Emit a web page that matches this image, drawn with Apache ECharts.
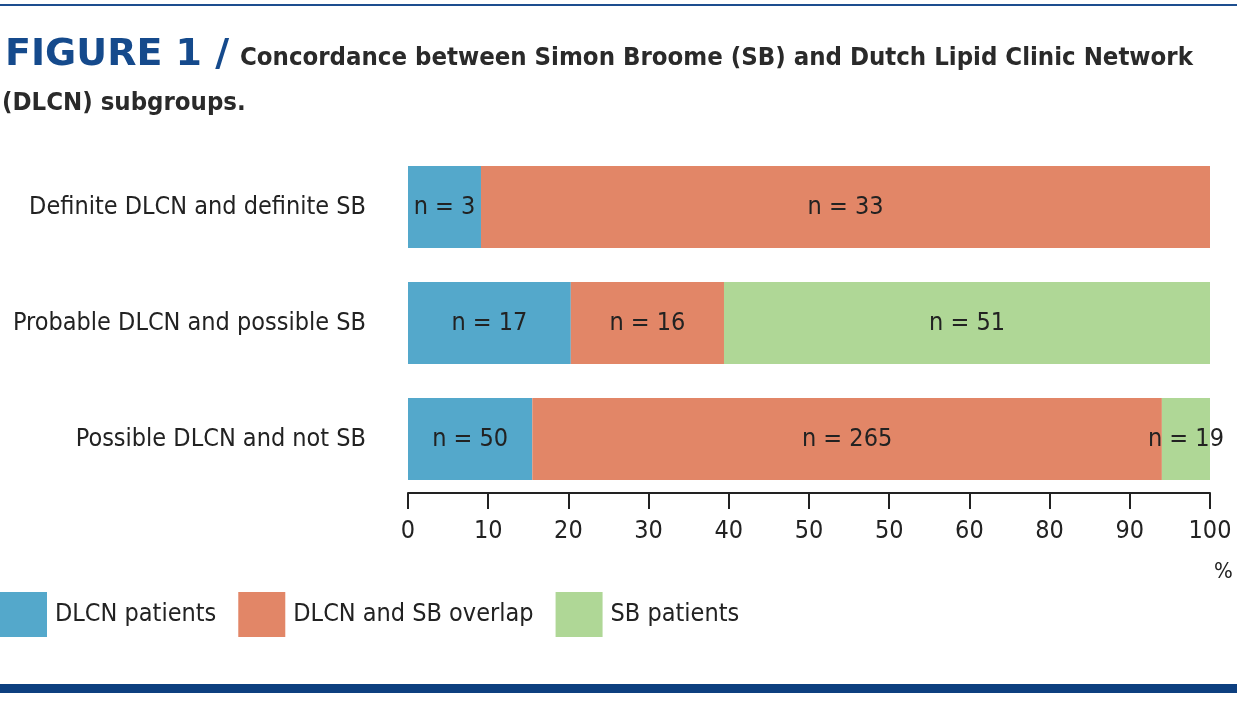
<!DOCTYPE html>
<html>
<head>
<meta charset="utf-8">
<script src="https://cdn.jsdelivr.net/npm/echarts@6/dist/echarts.min.js"></script>
<style>
html,body{margin:0;padding:0;background:#fff;}
#chart{width:1237px;height:714px;}
</style>
</head>
<body>
<div id="chart"></div>
<script>
// ---- data ----
var categories = ['Definite DLCN and definite SB', 'Probable DLCN and possible SB', 'Possible DLCN and not SB'];
var seriesNames = ['DLCN patients', 'DLCN and SB overlap', 'SB patients'];
var dlcnPct = [9.1, 20.3, 15.5];
var overlapPct = [90.9, 19.1, 78.5];
var sbPct = [0, 60.6, 6.0];
var dlcnN = [3, 17, 50];
var overlapN = [33, 16, 265];
var sbN = [0, 51, 19];
var tickLabels = ['0', '10', '20', '30', '40', '50', '50', '60', '80', '90', '100'];

var colors = ['#54a8cb', '#e28667', '#afd796'];
var FONT = '"Liberation Sans Narrow", "DejaVu Sans Condensed", "Roboto", sans-serif';

function mkSeries(name, pct, counts, color) {
  return {
    name: name,
    type: 'bar',
    stack: 'total',
    barWidth: 82,
    data: pct,
    itemStyle: { color: color },
    label: {
      show: true,
      position: 'inside',
      color: '#222',
      fontFamily: FONT,
      fontSize: 25,
      formatter: function (p) {
        var c = counts[p.dataIndex];
        return c ? 'n = ' + c : '';
      }
    },
    emphasis: { disabled: true }
  };
}

var chart = echarts.init(document.getElementById('chart'));
chart.setOption({
  backgroundColor: '#fff',
  animation: false,
  textStyle: { fontFamily: FONT },
  grid: { left: 408, right: 27, top: 149, height: 348, containLabel: false, outerBoundsMode: 'none' },
  xAxis: {
    type: 'value',
    min: 0, max: 100, interval: 10,
    offset: -4,
    axisLine: { show: true, lineStyle: { color: '#222', width: 2 } },
    axisTick: { show: true, length: 16, lineStyle: { color: '#222', width: 2 } },
    splitLine: { show: false },
    axisLabel: {
      color: '#222', fontFamily: FONT, fontSize: 25, margin: 26,
      formatter: function (v) { return tickLabels[Math.round(v / 10)]; }
    }
  },
  yAxis: {
    type: 'category',
    data: categories,
    inverse: true,
    axisLine: { show: false },
    axisTick: { show: false },
    axisLabel: { color: '#222', fontFamily: FONT, fontSize: 25, margin: 42 }
  },
  legend: {
    left: 0, top: 592, padding: 0,
    itemWidth: 47, itemHeight: 45,
    itemGap: 22,
    icon: 'rect',
    data: seriesNames,
    textStyle: { color: '#222', fontFamily: FONT, fontSize: 25, padding: [0, 0, 0, 3] },
    selectedMode: false
  },
  graphic: [
    { type: 'rect', left: 0, top: 4, shape: { width: 1237, height: 2 }, style: { fill: '#1d4e8f' } },
    { type: 'rect', left: 0, top: 684, shape: { width: 1237, height: 9 }, style: { fill: '#0d3f7f' } },
    { type: 'text', left: 5, top: 36, style: { text: 'FIGURE 1 /', fill: '#154a8c', font: 'bold 38px "DejaVu Sans", sans-serif' } },
    { type: 'text', left: 240, top: 45, style: { text: 'Concordance between Simon Broome (SB) and Dutch Lipid Clinic Network', fill: '#2a2a2a', font: 'bold 25.5px ' + FONT } },
    { type: 'text', left: 2, top: 90, style: { text: '(DLCN) subgroups.', fill: '#2a2a2a', font: 'bold 25.5px ' + FONT } },
    { type: 'text', left: 1214, top: 561, style: { text: '%', fill: '#222', font: '22px ' + FONT } }
  ],
  series: [
    mkSeries(seriesNames[0], dlcnPct, dlcnN, colors[0]),
    mkSeries(seriesNames[1], overlapPct, overlapN, colors[1]),
    mkSeries(seriesNames[2], sbPct, sbN, colors[2])
  ]
});
</script>
</body>
</html>
